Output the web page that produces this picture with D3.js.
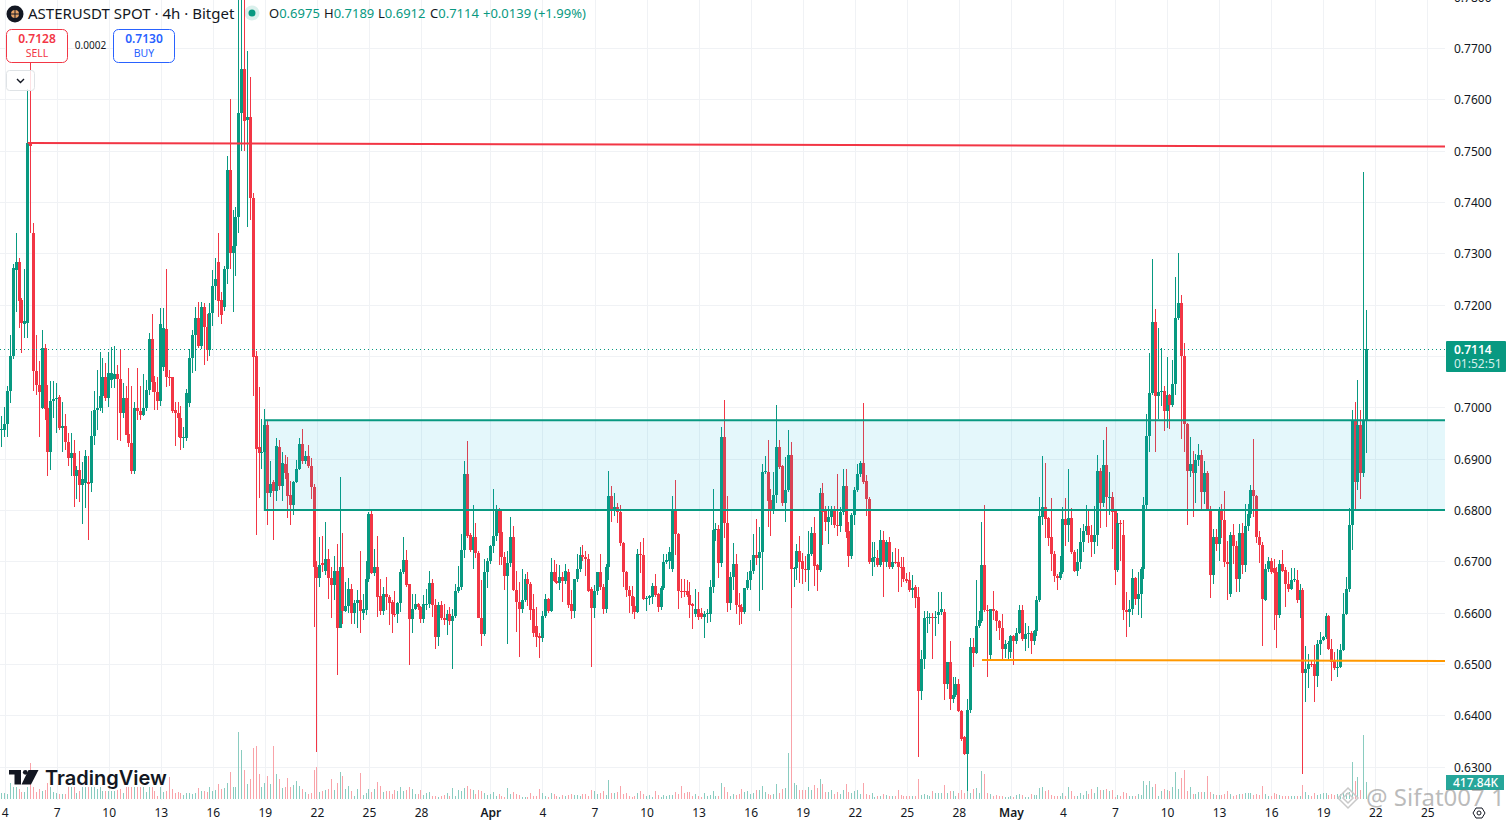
<!DOCTYPE html>
<html>
<head>
<meta charset="utf-8">
<script src="https://cdn.jsdelivr.net/npm/d3@7"></script>
<style>
  html, body { margin: 0; padding: 0; background: #fff; overflow: hidden; }
  text { font-family: "Noto Sans", sans-serif; }
  .axis path, .axis line { display: none; }
</style>
</head>
<body>
<script>
// 4h bars, first row is Mar 3 16:00. o, h, l, c in 1/10000 USDT
const ohlc = [
[6979,6990,6940,6955],[6955,6984,6922,6958],[6955,7000,6943,6967],[6967,7041,6943,7032],[7031,7141,7008,7100],
[7100,7280,7095,7271],[7268,7340,7185,7283],[7283,7291,7154,7208],[7210,7213,7106,7164],[7163,7270,7135,7168],
[7165,7620,7135,7515],[7515,7670,7340,7510],[7340,7360,7031,7070],[7070,7141,7024,7043],[7044,7090,6943,7029],
[6998,7151,6996,7115],[7115,7124,6976,6997],[6998,7044,6867,6914],[6914,7052,6878,7013],[7013,7052,6979,7016],
[7016,7047,6950,7019],[7020,7024,6955,6959],[6959,7011,6914,6964],[6964,6987,6917,6933],[6933,6950,6885,6901],
[6901,6950,6867,6911],[6911,6937,6806,6867],[6867,6885,6821,6878],[6878,6915,6815,6849],[6849,6893,6772,6860],
[6853,6917,6803,6905],[6855,6905,6742,6850],[6853,6992,6835,6945],[6945,7031,6927,6995],[6995,7073,6956,6999],
[6998,7107,6992,7022],[7022,7096,6989,7060],[7060,7086,7012,7018],[7018,7107,7000,7067],[7054,7118,7037,7067],
[7055,7120,7037,7065],[7065,7083,6937,7055],[7055,7111,6935,6989],[6989,7047,6980,7019],[7019,7041,6946,6946],
[6948,7077,6923,6931],[6931,7041,6870,6876],[6876,7010,6870,6998],[6998,7077,6976,6992],[6992,7041,6975,6985],
[6985,7065,6983,6998],[6998,7054,6992,7034],[7034,7144,7025,7134],[7134,7181,7030,7050],[7050,7062,6995,7030],
[7030,7059,6995,7013],[7013,7194,7002,7163],[7078,7194,7070,7155],[7153,7270,7040,7060],[7060,7073,7041,7058],
[7060,7060,6990,6993],[6995,7010,6925,6989],[6989,7010,6943,6979],[6979,7002,6916,6941],[6941,6962,6921,6943],
[6941,7035,6935,7028],[7008,7113,7000,7097],[7097,7151,7067,7141],[7141,7195,7070,7174],[7174,7205,7115,7119],
[7119,7205,7113,7195],[7195,7203,7083,7156],[7156,7181,7091,7111],[7111,7203,7100,7184],[7184,7268,7159,7237],
[7237,7291,7210,7250],[7283,7340,7177,7208],[7210,7225,7163,7180],[7195,7275,7188,7270],[7270,7490,7240,7463],
[7463,7600,7270,7300],[7300,7384,7185,7315],[7315,7390,7255,7370],[7370,7800,7340,7573],[7573,7800,7500,7659],
[7659,7800,7500,7558],[7560,7695,7351,7565],[7565,7643,7365,7408],[7408,7417,7022,7099],[7100,7110,6751,6919],
[6922,7040,6823,6912],[6912,6977,6880,6914],[6914,6996,6880,6966],[6966,6975,6771,6833],[6833,6895,6825,6850],
[6855,6858,6742,6838],[6838,6940,6817,6924],[6923,6937,6840,6847],[6847,6914,6817,6891],[6890,6908,6860,6872],
[6872,6904,6785,6828],[6830,6857,6771,6810],[6810,6857,6790,6854],[6854,6897,6852,6880],[6880,6940,6878,6929],
[6929,6957,6890,6895],[6895,6915,6890,6906],[6906,6927,6882,6885],[6885,6901,6822,6844],[6844,6850,6573,6690],
[6690,6700,6328,6667],[6667,6748,6650,6693],[6696,6750,6680,6692],[6682,6777,6673,6705],[6705,6725,6627,6667],
[6667,6690,6590,6654],[6654,6710,6625,6682],[6682,6733,6478,6571],[6571,6865,6570,6690],[6690,6755,6578,6604],
[6604,6660,6601,6613],[6613,6667,6600,6646],[6646,6655,6578,6600],[6600,6625,6578,6618],[6618,6645,6570,6625],
[6625,6720,6561,6603],[6600,6636,6585,6607],[6605,6700,6595,6665],[6665,6797,6660,6792],[6792,6799,6675,6678],
[6678,6725,6672,6690],[6690,6749,6592,6631],[6632,6665,6595,6603],[6603,6650,6595,6636],[6636,6670,6605,6630],
[6630,6635,6576,6619],[6620,6625,6560,6597],[6598,6643,6592,6597],[6597,6620,6580,6618],[6618,6686,6602,6680],
[6680,6747,6675,6703],[6703,6722,6650,6654],[6655,6655,6498,6587],[6587,6636,6560,6607],[6607,6636,6605,6617],
[6617,6618,6605,6611],[6612,6614,6580,6587],[6587,6635,6580,6617],[6617,6646,6605,6617],[6617,6681,6610,6657],
[6657,6666,6592,6615],[6615,6626,6530,6553],[6553,6620,6535,6615],[6615,6622,6585,6590],[6590,6617,6576,6585],
[6585,6606,6556,6597],[6597,6612,6576,6584],[6584,6607,6491,6594],[6594,6655,6590,6642],[6642,6691,6638,6651],
[6651,6753,6645,6722],[6722,6895,6707,6870],[6870,6934,6745,6750],[6751,6755,6718,6723],[6723,6810,6685,6747],
[6747,6775,6706,6716],[6717,6720,6590,6590],[6590,6664,6535,6558],[6558,6704,6555,6680],[6680,6706,6648,6700],
[6700,6732,6695,6730],[6730,6841,6717,6749],[6749,6810,6740,6802],[6802,6803,6693,6756],[6757,6799,6693,6708],
[6709,6719,6644,6671],[6671,6720,6539,6697],[6697,6787,6690,6748],[6748,6769,6642,6644],[6645,6682,6563,6620],
[6621,6660,6514,6607],[6607,6685,6600,6624],[6624,6676,6620,6665],[6665,6680,6613,6655],[6655,6660,6585,6606],
[6607,6636,6552,6561],[6575,6612,6533,6553],[6554,6560,6511,6550],[6550,6604,6542,6593],[6593,6636,6590,6626],
[6626,6628,6600,6603],[6603,6707,6601,6679],[6679,6702,6660,6662],[6662,6695,6655,6657],[6657,6693,6644,6670],
[6670,6680,6620,6662],[6662,6695,6655,6681],[6680,6685,6610,6615],[6617,6645,6587,6603],[6603,6665,6590,6665],
[6665,6715,6660,6686],[6686,6728,6680,6712],[6712,6732,6700,6708],[6708,6720,6672,6705],[6705,6715,6641,6642],
[6647,6650,6495,6610],[6610,6654,6590,6642],[6642,6680,6635,6680],[6680,6714,6645,6650],[6651,6655,6598,6607],
[6607,6695,6600,6690],[6690,6876,6664,6827],[6827,6846,6776,6798],[6798,6833,6788,6806],[6806,6813,6775,6796],
[6796,6810,6730,6735],[6736,6738,6651,6680],[6680,6682,6631,6644],[6644,6652,6600,6632],[6632,6652,6598,6613],
[6613,6630,6588,6602],[6602,6725,6600,6714],[6714,6738,6678,6712],[6712,6745,6624,6626],[6626,6632,6603,6629],
[6629,6635,6615,6632],[6630,6657,6617,6652],[6652,6675,6630,6634],[6636,6638,6601,6611],[6611,6652,6605,6649],
[6649,6715,6645,6698],[6698,6715,6695,6702],[6700,6728,6686,6718],[6685,6827,6680,6800],[6801,6859,6712,6753],
[6753,6755,6607,6642],[6643,6665,6628,6641],[6643,6665,6630,6641],[6643,6663,6630,6634],[6635,6660,6590,6615],
[6616,6618,6568,6614],[6597,6647,6592,6608],[6608,6640,6585,6592],[6600,6610,6588,6592],[6592,6603,6550,6597],
[6597,6607,6580,6599],[6597,6664,6582,6650],[6650,6841,6638,6761],[6761,6775,6740,6763],[6763,6770,6668,6697],
[6696,6961,6690,6943],[6943,7014,6745,6774],[6774,6827,6601,6619],[6619,6680,6606,6670],[6670,6736,6645,6695],
[6695,6715,6598,6615],[6615,6638,6577,6611],[6611,6617,6578,6602],[6602,6649,6598,6649],[6649,6680,6645,6663],
[6663,6702,6645,6681],[6681,6753,6675,6712],[6712,6782,6693,6707],[6707,6767,6604,6719],[6719,6890,6645,6875],
[6875,6905,6870,6877],[6875,6937,6767,6817],[6819,6841,6750,6800],[6800,6875,6792,6829],[6829,7005,6813,6922],
[6922,6936,6880,6884],[6885,6887,6808,6814],[6814,6904,6777,6839],[6839,6956,6835,6907],[6907,6932,6609,6685],
[6685,6690,6650,6688],[6688,6733,6663,6720],[6720,6750,6657,6699],[6700,6716,6656,6685],[6685,6710,6660,6683],
[6684,6760,6642,6714],[6714,6767,6710,6756],[6756,6786,6652,6691],[6692,6695,6642,6683],[6683,6842,6680,6834],
[6834,6853,6732,6797],[6798,6808,6760,6777],[6777,6808,6733,6787],[6787,6808,6770,6799],[6800,6808,6765,6771],
[6771,6870,6750,6768],[6768,6805,6757,6797],[6797,6880,6790,6847],[6847,6880,6745,6758],[6759,6777,6690,6711],
[6711,6795,6705,6790],[6790,6845,6770,6840],[6840,6890,6835,6871],[6871,6895,6865,6891],[6891,7008,6850,6855],
[6856,6868,6788,6821],[6821,6825,6695,6699],[6699,6737,6672,6706],[6706,6737,6690,6708],[6707,6722,6690,6693],
[6693,6761,6690,6741],[6741,6759,6630,6699],[6699,6742,6690,6737],[6737,6748,6685,6689],[6689,6719,6686,6699],
[6699,6726,6695,6698],[6699,6725,6640,6689],[6690,6708,6650,6688],[6690,6708,6660,6665],[6665,6678,6658,6661],
[6663,6680,6640,6644],[6644,6673,6628,6649],[6650,6653,6609,6629],[6630,6650,6319,6448],[6448,6528,6430,6509],
[6509,6604,6490,6589],[6589,6604,6560,6591],[6591,6600,6578,6592],[6592,6600,6510,6590],[6590,6604,6555,6592],
[6596,6640,6578,6602],[6602,6640,6595,6608],[6602,6608,6429,6461],[6461,6504,6451,6504],[6504,6544,6410,6431],
[6431,6474,6425,6439],[6439,6475,6435,6461],[6461,6470,6406,6408],[6408,6410,6350,6353],[6358,6360,6323,6325],
[6325,6432,6253,6411],[6411,6551,6405,6534],[6534,6551,6495,6521],[6521,6663,6520,6574],[6574,6603,6570,6586],
[6584,6777,6580,6693],[6693,6810,6601,6605],[6606,6615,6474,6604],[6517,6607,6510,6607],[6607,6642,6585,6603],
[6604,6606,6565,6583],[6584,6585,6546,6570],[6570,6598,6510,6529],[6529,6547,6511,6540],[6540,6545,6505,6541],
[6524,6556,6512,6554],[6554,6556,6498,6545],[6545,6570,6540,6560],[6560,6615,6558,6605],[6605,6615,6545,6549],
[6549,6580,6525,6558],[6558,6575,6532,6561],[6561,6565,6520,6545],[6545,6566,6538,6564],[6564,6633,6555,6624],
[6624,6826,6620,6788],[6786,6905,6770,6805],[6805,6892,6746,6783],[6784,6786,6730,6746],[6747,6823,6682,6715],
[6715,6720,6660,6671],[6672,6675,6645,6668],[6668,6710,6663,6679],[6679,6805,6675,6782],[6782,6823,6730,6770],
[6770,6879,6738,6784],[6784,6803,6715,6718],[6719,6722,6680,6682],[6682,6725,6672,6699],[6699,6765,6685,6737],
[6737,6773,6718,6760],[6760,6809,6752,6768],[6768,6799,6735,6751],[6752,6770,6709,6737],[6737,6807,6715,6752],
[6752,6908,6730,6877],[6877,6882,6765,6814],[6814,6936,6805,6887],[6887,6961,6766,6825],[6825,6875,6791,6826],
[6826,6835,6725,6796],[6798,6800,6653,6684],[6684,6795,6680,6774],[6775,6780,6700,6772],[6752,6780,6585,6605],
[6606,6640,6552,6602],[6602,6625,6572,6607],[6607,6685,6595,6668],[6668,6670,6615,6626],[6626,6680,6595,6637],
[6637,6690,6590,6685],[6685,6825,6665,6809],[6809,6988,6800,6944],[6944,7105,6913,7028],[7028,7290,7025,7166],
[7166,7192,6913,7022],[7022,7155,6978,7030],[7030,7115,7002,7031],[7031,7041,6954,6993],[6993,7098,6959,7024],
[7024,7027,6958,7004],[7004,7093,7000,7046],[7046,7254,7025,7175],[7175,7300,7170,7204],[7204,7218,6939,7100],
[7101,7125,6913,6967],[6968,6970,6770,6877],[6877,6942,6864,6889],[6889,6915,6786,6872],[6872,6910,6813,6897],
[6897,6928,6885,6908],[6908,6916,6800,6835],[6835,6895,6812,6872],[6872,6877,6800,6800],[6802,6808,6628,6673],
[6673,6764,6655,6748],[6748,6764,6720,6733],[6733,6805,6700,6801],[6800,6812,6745,6780],[6780,6838,6690,6698],
[6698,6740,6625,6695],[6637,6758,6630,6752],[6752,6772,6695,6730],[6730,6740,6640,6665],[6665,6773,6640,6755],
[6755,6775,6675,6692],[6692,6812,6680,6768],[6768,6812,6760,6793],[6793,6849,6785,6840],[6840,6939,6786,6827],
[6827,6830,6735,6747],[6748,6760,6697,6731],[6731,6738,6536,6626],[6625,6695,6623,6685],[6685,6708,6680,6700],
[6700,6706,6675,6680],[6687,6705,6566,6678],[6680,6690,6532,6596],[6596,6703,6590,6695],[6695,6722,6680,6682],
[6683,6690,6612,6656],[6656,6680,6640,6646],[6646,6687,6644,6664],[6664,6688,6660,6665],[6664,6684,6618,6625],
[6625,6655,6590,6645],[6645,6648,6286,6483],[6483,6536,6426,6491],[6491,6520,6453,6501],[6501,6505,6495,6500],
[6501,6538,6426,6476],[6476,6547,6455,6539],[6539,6562,6517,6547],[6547,6555,6545,6552],[6552,6600,6548,6594],
[6594,6595,6528,6530],[6530,6549,6467,6504],[6505,6523,6488,6493],[6493,6530,6475,6495],[6495,6539,6492,6527],
[6527,6638,6525,6598],[6598,6670,6595,6646],[6646,6803,6640,6770],[6770,6995,6722,6975],[6975,7010,6802,6855],
[6855,7054,6840,6965],[6965,6994,6822,6872],[6872,7458,6865,6975],[6975,7189,6912,7114]
];

// volume per bar, in thousands, same order as ohlc
const volumeMarch = [144,144,144,128,384,296,296,240,176,176,296,856,296,176,240,200,224,384,296,176,144,120,120,120,296,296,296,144,200,296,296,296,296,296,240,296,200,200,200,200,200,216,240,144,296,296,296,296,296,296,296,176,296,296,200,64,296,176,200,520,240,144,160,144,96,144,144,120,144,264,200,200,176,296,200,216,360,240,264,384,640,296,296,1600,1176,704,360,480,1224,1264,600,296,384,544,360,1264,600,480,264,296,496,296,336,424,320,240,176,120,144,704,760,176,200,224,240,480,224,384,640,560,240,304,200,80,240];
const volumeApril = [624,96,144,240,160,240,416,304,160,192,192,120,216,192,288,192,216,288,240,120,120,216,96,144,168,72,72,48,72,96,144,72,264,72,216,192,264,312,240,216,120,216,192,144,96,120,168,72,120,72,48,264,120,168,120,96,48,48,48,144,72,72,240,144,72,48,144,120,72,48,96,72,96,120,96,96,72,120,120,72,216,192,120,144,192,96,456,144,144,168,312,120,144,72,48,72,144,192,120,72,96,48,192];
const volumeLateApril = [96,48,96,72,96,96,168,120,312,144,168,168,72,120,72,48,144,72,96,192,72,72,384,288,168,72,120,96,120,240,168,192,120,144,216,216,312,168,120,96,120,360,144,240,264,1104,4800,384,336,216,216,216,288,216,336,264,480,360,168,168,216,120,168,120,216,360,168,144,192,216,120,384,120,96,144,48,72,72,120,96,72,72,72,216,96,72,72,72,72,72,480];
const volumeMay = [96,120,96,72,192,144,144,144,336,144,192,192,72,144,216,144,216,144,240,264,144,672,600,144,120,72,96,72,72,48,48,72,48,96,120,96,48,48,120,96,96,264,288,192,216,96,72,72,72,144,72,288,192,72,72,144,96,192,120,240,144,288,216,216,240,192,216,48,96,72,168,144,72,72,72,120,96,432,336,432,288,360,72,192,240,216,192,288,648,240,504,696];
const volumeLateMay = [200,296,120,120,176,176,160,544,160,120,96,96,96,120,200,120,80,96,120,120,144,144,144,96,120,96,320,120,80,80,144,120,96,80,64,80,64,80,64,80,336,176,96,80,144,96,120,144,144,96,120,96,120,120,144,144,160,880,440,520,224,1536,418];
const volumes = [...volumeMarch, ...volumeApril, ...volumeLateApril, ...volumeMay, ...volumeLateMay];

const tickDates = ["03-04","03-07","03-10","03-13","03-16","03-19","03-22","03-25","03-28","04-01","04-04","04-07","04-10","04-13","04-16","04-19","04-22","04-25","04-28","05-01","05-04","05-07","05-10","05-13","05-16","05-19","05-22","05-25"];
const tickLabels = ["4","7","10","13","16","19","22","25","28","Apr","4","7","10","13","16","19","22","25","28","May","4","7","10","13","16","19","22","25"];
const priceTicks = [0.63,0.64,0.65,0.66,0.67,0.68,0.69,0.70,0.71,0.72,0.73,0.74,0.75,0.76,0.77,0.78];
// 0.71 sits under the last price tag, so it has no label
const priceLabels = priceTicks.filter(d => d !== 0.71);

// drawings on the chart: first bar number, price at start, price at right edge
const resistanceLine = [10, 0.7515, 0.7508];
const supportLine = [340, 0.6508, 0.6506];
const zoneBar = 92;
const zoneTop = 0.6975;
const zoneBottom = 0.6800;
const lastPrice = 0.7114;
const statusParts = [["O0.6975", 269], ["H0.7189", 324], ["L0.6912", 378], ["C0.7114", 430], ["+0.0139", 483], ["(+1.99%)", 534]];

const width = 1511, height = 823;
const plotRight = 1445, plotBottom = 800;
const up = "#089981", down = "#f23645";
const upVol = "#8accc0", downVol = "#f9a3a9";

const parseDay = s => new Date(`2026-${s}T00:00:00Z`);
const barTime = i => new Date(Date.UTC(2026, 2, 3, 16) + i * 4 * 3600 * 1000);

const x = d3.scaleUtc()
  .domain([parseDay("03-04"), parseDay("05-25")])
  .range([4.6, 1427.3]);
const y = d3.scaleLinear().domain([0.63, 0.75]).range([766.7, 150.7]);
const yVol = d3.scaleLinear().domain([0, 4800]).range([799, 599]);
const price = v => v / 10000;

const svg = d3.select("body").append("svg")
  .attr("width", width)
  .attr("height", height)
  .style("display", "block");

svg.append("defs").append("clipPath").attr("id", "plot")
  .append("rect").attr("width", plotRight).attr("height", plotBottom);

// grid
const grid = svg.append("g");
grid.selectAll("line.h").data(priceTicks).join("line")
  .attr("x1", 0).attr("x2", plotRight)
  .attr("y1", d => Math.round(y(d)) + 0.5).attr("y2", d => Math.round(y(d)) + 0.5)
  .attr("stroke", "#f0f2f5");
grid.selectAll("line.v").data(tickDates).join("line")
  .attr("x1", d => Math.round(x(parseDay(d))) + 0.5).attr("x2", d => Math.round(x(parseDay(d))) + 0.5)
  .attr("y1", 0).attr("y2", plotBottom)
  .attr("stroke", "#f0f2f5");

const plot = svg.append("g").attr("clip-path", "url(#plot)");

// volume
plot.append("g").selectAll("rect").data(volumes).join("rect")
  .attr("x", (d, i) => Math.floor(x(barTime(i))))
  .attr("width", 1)
  .attr("y", d => yVol(d))
  .attr("height", d => yVol(0) - yVol(d))
  .attr("fill", (d, i) => ohlc[i][3] >= ohlc[i][0] ? upVol : downVol)
  .attr("shape-rendering", "crispEdges");

// candles
const candles = plot.append("g").selectAll("g").data(ohlc).join("g")
  .attr("fill", d => d[3] >= d[0] ? up : down)
  .attr("shape-rendering", "crispEdges");
candles.append("rect")
  .attr("x", (d, i) => Math.floor(x(barTime(i))))
  .attr("width", 1)
  .attr("y", d => y(price(d[1])))
  .attr("height", d => y(price(d[2])) - y(price(d[1])));
candles.append("rect")
  .attr("x", (d, i) => Math.floor(x(barTime(i))) - 1)
  .attr("width", 3)
  .attr("y", d => y(price(Math.max(d[0], d[3]))))
  .attr("height", d => Math.max(1, Math.abs(y(price(d[0])) - y(price(d[3])))));

// last price dotted line
plot.append("line")
  .attr("x1", 0).attr("x2", plotRight)
  .attr("y1", Math.round(y(lastPrice)) + 0.5).attr("y2", Math.round(y(lastPrice)) + 0.5)
  .attr("stroke", up).attr("stroke-dasharray", "1 3");

// drawings
const draw = svg.append("g");
const zx = x(barTime(zoneBar));
draw.append("rect")
  .attr("x", zx).attr("width", plotRight - zx)
  .attr("y", y(zoneTop)).attr("height", y(zoneBottom) - y(zoneTop))
  .attr("fill", "#00b3d9").attr("fill-opacity", 0.105);
draw.append("path")
  .attr("d", `M${plotRight},${y(zoneTop)}H${zx}V${y(zoneBottom)}H${plotRight}`)
  .attr("fill", "none").attr("stroke", up).attr("stroke-width", 2);
draw.append("line")
  .attr("x1", x(barTime(resistanceLine[0]))).attr("x2", plotRight)
  .attr("y1", y(resistanceLine[1])).attr("y2", y(resistanceLine[2]))
  .attr("stroke", down).attr("stroke-width", 2);
draw.append("line")
  .attr("x1", x(barTime(supportLine[0]))).attr("x2", plotRight)
  .attr("y1", y(supportLine[1])).attr("y2", y(supportLine[2]))
  .attr("stroke", "#ff9800").attr("stroke-width", 2);

// axes
const priceAxis = svg.append("g").attr("class", "axis")
  .attr("transform", "translate(1447,0.5)")
  .call(d3.axisRight(y).tickValues(priceLabels).tickSize(0).tickPadding(7).tickFormat(d3.format(".4f")));
priceAxis.selectAll("text").attr("font-size", 12).attr("fill", "#131722");

const timeAxis = svg.append("g").attr("class", "axis")
  .attr("transform", "translate(0,800)")
  .call(d3.axisBottom(x).tickValues(tickDates.map(parseDay)).tickSize(0).tickPadding(8)
    .tickFormat((d, i) => tickLabels[i]));
timeAxis.selectAll("text")
  .attr("font-size", 12).attr("fill", "#131722")
  .attr("font-weight", (d, i) => isNaN(tickLabels[i]) ? 600 : 400);

// price labels
svg.append("rect").attr("x", 1446).attr("y", 341).attr("width", 60).attr("height", 31).attr("rx", 1).attr("fill", up);
svg.append("text").attr("x", 1454).attr("y", 354).attr("font-size", 12).attr("font-weight", 600).attr("fill", "#fff").text(lastPrice.toFixed(4));
svg.append("text").attr("x", 1454).attr("y", 368).attr("font-size", 12).attr("fill", "#d6efeb").text("01:52:51");
svg.append("rect").attr("x", 1446).attr("y", 775).attr("width", 58).attr("height", 15).attr("fill", "#26a69a");
svg.append("text").attr("x", 1453).attr("y", 787).attr("font-size", 12).attr("font-weight", 500).attr("fill", "#fff").text("417.84K");

// header
svg.append("circle").attr("cx", 15).attr("cy", 14).attr("r", 8.5).attr("fill", "#131722");
svg.append("circle").attr("cx", 15).attr("cy", 14).attr("r", 4).attr("fill", "#e8a468");
svg.append("path").attr("d", "M15,10V18M11,14H19").attr("stroke", "#131722").attr("stroke-width", 1);
svg.append("text").attr("x", 28).attr("y", 19).attr("font-size", 15).attr("fill", "#131722").text("ASTERUSDT SPOT · 4h · Bitget");
svg.append("circle").attr("cx", 252).attr("cy", 13).attr("r", 7.5).attr("fill", up).attr("fill-opacity", 0.15);
svg.append("circle").attr("cx", 252).attr("cy", 13).attr("r", 3.5).attr("fill", up);

const status = svg.append("g").attr("font-size", 13);
statusParts.forEach(([t, px]) => {
  const item = status.append("text").attr("x", px).attr("y", 18).attr("fill", up);
  if (/^[OHLC]/.test(t)) {
    item.append("tspan").attr("fill", "#131722").text(t[0]);
    item.append("tspan").text(t.slice(1));
  } else {
    item.text(t);
  }
});

// sell / buy buttons
const button = (bx, color, priceText, label) => {
  svg.append("rect").attr("x", bx + 0.5).attr("y", 29.5).attr("width", 61).attr("height", 33).attr("rx", 5)
    .attr("fill", "#fff").attr("stroke", color);
  svg.append("text").attr("x", bx + 31).attr("y", 43).attr("text-anchor", "middle").attr("font-size", 12)
    .attr("font-weight", 600).attr("fill", color).text(priceText);
  svg.append("text").attr("x", bx + 31).attr("y", 57).attr("text-anchor", "middle").attr("font-size", 10.5)
    .attr("fill", color).text(label);
};
button(6, down, "0.7128", "SELL");
button(113, "#2962ff", "0.7130", "BUY");
svg.append("text").attr("x", 90.5).attr("y", 49).attr("text-anchor", "middle").attr("font-size", 10).attr("fill", "#131722").text("0.0002");
svg.append("rect").attr("x", 6.5).attr("y", 70.5).attr("width", 28).attr("height", 20).attr("rx", 3)
  .attr("fill", "#fff").attr("fill-opacity", 0.85).attr("stroke", "#dfe3e6");
svg.append("path").attr("d", "M17,79L20.5,82.5L24,79").attr("fill", "none").attr("stroke", "#131722").attr("stroke-width", 1.4);

// logo
const logo = svg.append("g").attr("fill", "#131722");
logo.append("path").attr("d", "M9,770H21V784.5H14.5V774.5H9Z");
logo.append("circle").attr("cx", 25.3).attr("cy", 772.3).attr("r", 2.4);
logo.append("path").attr("d", "M28.5,770H38.5L31,784.5H21.5Z");
svg.append("text").attr("x", 45).attr("y", 785).attr("font-size", 20).attr("font-weight", 600)
  .attr("fill", "#131722").style("font-family", "Inter").text("TradingView");

// watermark
svg.append("path").attr("d", "M1348,788L1358,798L1348,808L1338,798Z M1348,793L1353,798L1348,803L1343,798Z")
  .attr("fill", "none").attr("stroke", "#c9c9c9").attr("stroke-width", 1.5);
svg.append("text").attr("x", 1366).attr("y", 806).attr("font-size", 24).attr("fill", "#777").attr("fill-opacity", 0.5)
  .text("@ Sifat007 1");

// settings icon
svg.append("path").attr("d", "M1473,813L1476,808H1482L1485,813L1482,818H1476Z").attr("fill", "none").attr("stroke", "#131722");
svg.append("circle").attr("cx", 1479).attr("cy", 813).attr("r", 2).attr("fill", "none").attr("stroke", "#131722");
</script>
</body>
</html>
